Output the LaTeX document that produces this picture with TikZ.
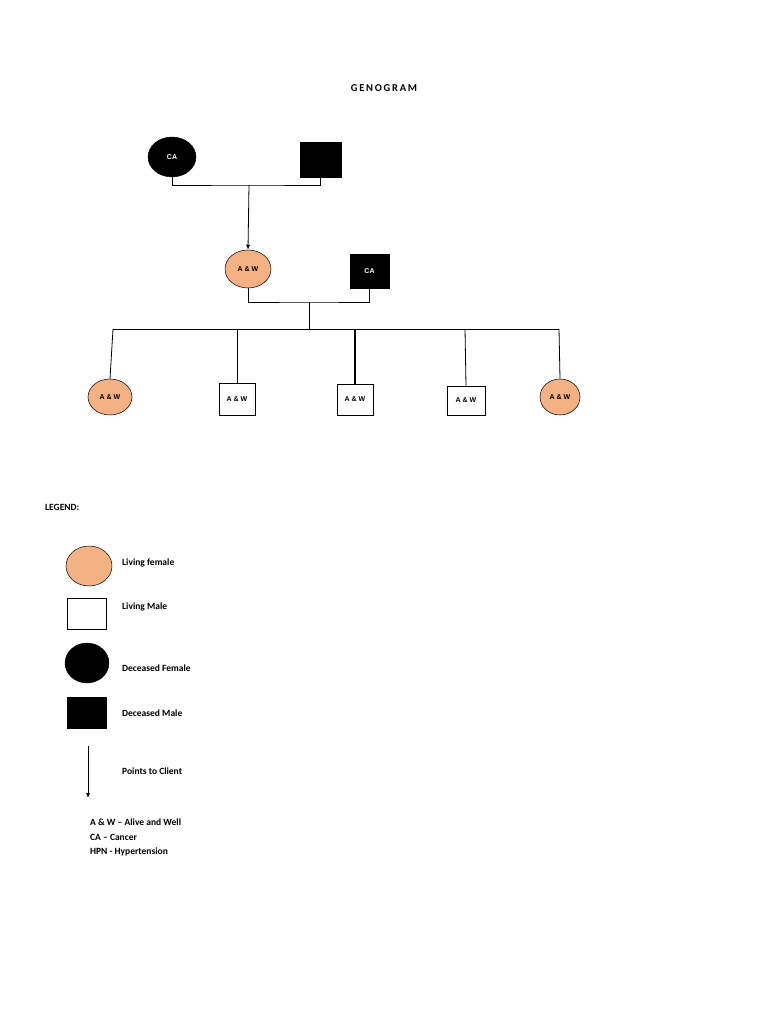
\documentclass[tikz,border=0pt]{standalone}
\usepackage{fontspec}
\setmainfont{Carlito}
\newfontfamily\lab{Liberation Sans}
\usetikzlibrary{shapes.geometric,arrows.meta}
\definecolor{salmon}{HTML}{F4B183}
\begin{document}
\begin{tikzpicture}[x=1pt,y=-1pt,
  ln/.style={line width=0.8pt},
  fem/.style={ellipse,draw,line width=0.5pt,fill=salmon,inner sep=0pt,font=\lab\bfseries\fontsize{7}{8}\selectfont},
  male/.style={rectangle,draw,line width=0.8pt,fill=white,inner sep=0pt,font=\lab\bfseries\fontsize{7}{8}\selectfont},
  dfem/.style={ellipse,draw,fill=black,text=white,inner sep=0pt,font=\lab\bfseries\fontsize{7}{8}\selectfont},
  dmale/.style={rectangle,draw,fill=black,text=white,inner sep=0pt,font=\lab\bfseries\fontsize{7}{8}\selectfont},
  txt/.style={anchor=west,inner sep=0pt,font=\bfseries\fontsize{9.5}{11}\selectfont},
  arr/.style={ln,-{Latex[length=5pt,width=4pt]}}]
\useasboundingbox (0,0) rectangle (768,1024);
\node[font=\bfseries\fontsize{10.5}{12}\selectfont] (title) at (384,88) {G\,E\,N\,O\,G\,R\,A\,M};
% generation 1
\node[dfem,minimum width=48pt,minimum height=40pt] (gm) at (172,157) {CA};
\node[dmale,minimum width=41pt,minimum height=35pt] (gf) at (320.5,159.5) {};
\coordinate (c1) at (249,185);
\draw[ln] (gm.south) |- (c1) -| (gf.south);
% generation 2
\node[fem,minimum width=46pt,minimum height=38pt] (mo) at (248,269) {A \& W};
\node[dmale,minimum width=39pt,minimum height=34pt] (fa) at (369.5,271) {CA};
\draw[arr] (c1) -- (mo.north);
\coordinate (c2) at (309,302);
\coordinate (c3) at (309,329);
\draw[ln] (mo.south) |- (c2) -| (fa.south);
\draw[ln] (c2) -- (c3);
% children
\node[fem,minimum width=44pt,minimum height=36pt] (k1) at (110,397) {A \& W};
\node[male,minimum width=36pt,minimum height=32pt] (k2) at (237,399) {A \& W};
\node[male,minimum width=36pt,minimum height=31pt] (k3) at (355,399.5) {A \& W};
\node[male,minimum width=38pt,minimum height=29pt] (k4) at (466,400.5) {A \& W};
\node[fem,minimum width=40pt,minimum height=36pt] (k5) at (560,397) {A \& W};
\coordinate (s1) at (113,329);
\coordinate (s5) at (559,329);
\draw[ln] (s1) -- (s5);
\draw[ln] (s1) -- (k1.north);
\draw[ln] (237,329) -- (k2.north);
\draw[line width=1.5pt] (355,329) -- (k3.north);
\draw[ln] (465,329) -- (k4.north);
\draw[ln] (s5) -- (k5.north);
% legend
\node[txt] (lg) at (45,507) {LEGEND:};
\node[fem,minimum width=46pt,minimum height=40pt] (l1) at (89,566) {};
\node[txt] (t1) at (122,563) {Living female};
\node[male,minimum width=39pt,minimum height=31pt] (l2) at (86.5,613.5) {};
\node[txt] (t2) at (122,607) {Living Male};
\node[dfem,minimum width=44pt,minimum height=40pt] (l3) at (87,663) {};
\node[txt] (t3) at (122,668) {Deceased Female};
\node[dmale,minimum width=39pt,minimum height=31pt] (l4) at (86.5,712.5) {};
\node[txt] (t4) at (122,713) {Deceased Male};
\coordinate (a1) at (88,746);
\coordinate (a2) at (88,798);
\draw[arr] (a1) -- (a2);
\node[txt] (t5) at (122,771) {Points to Client};
\node[txt] (b1) at (90,822) {A \& W -- Alive and Well};
\node[txt] (b2) at (90,837) {CA -- Cancer};
\node[txt] (b3) at (90,852) {HPN - Hypertension};
\end{tikzpicture}
\end{document}
